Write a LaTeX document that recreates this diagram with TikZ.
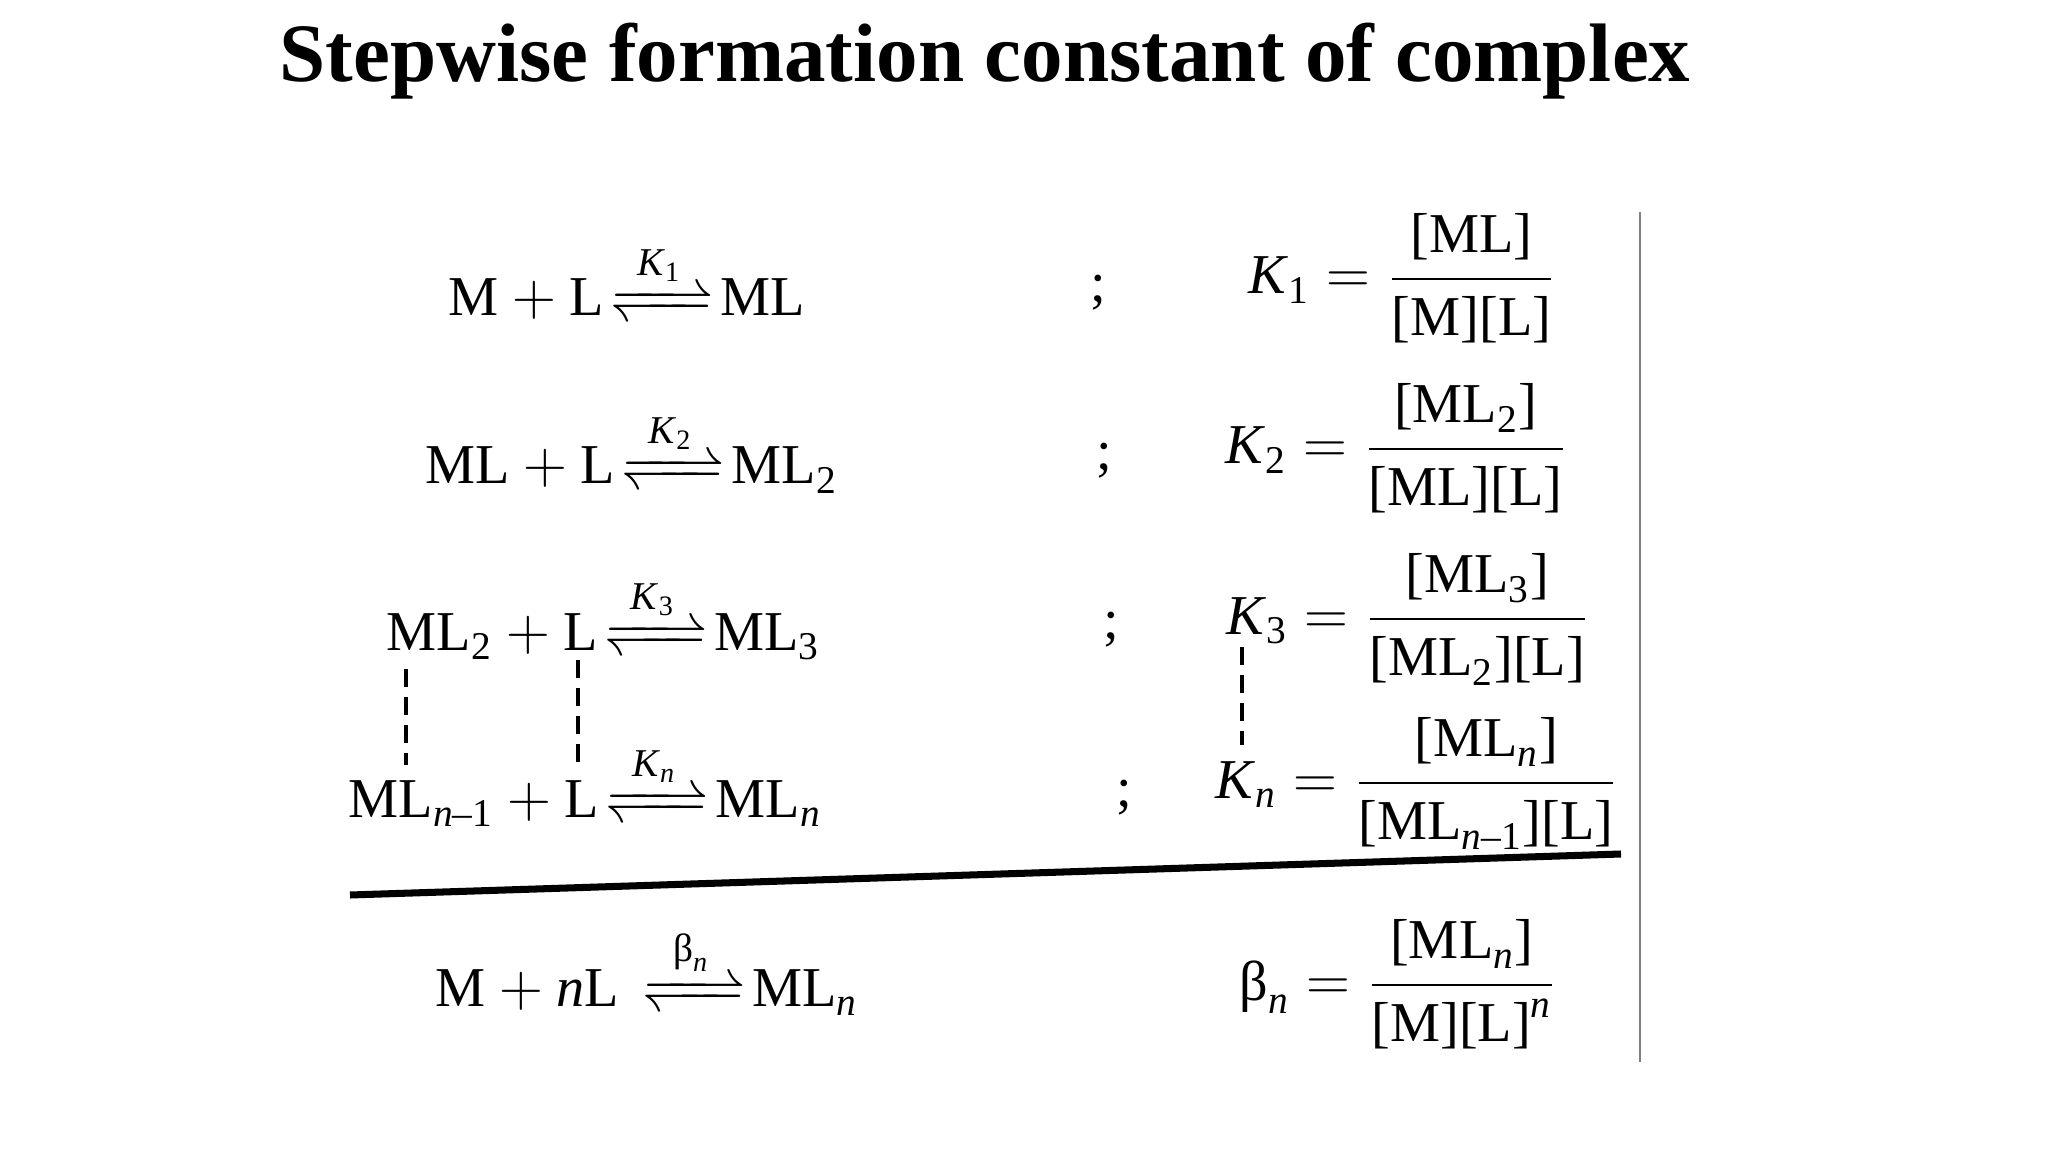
\documentclass[tikz,border=0pt]{standalone}
\usepackage{mathtools}
\usepackage[no-math]{fontspec}
\setmainfont{Liberation Serif}
\begin{document}
\begin{tikzpicture}[x=0.01cm,y=-0.01cm,
  eq/.style={anchor=base west,inner sep=0pt,font=\fontsize{16}{19}\selectfont},
  semi/.style={anchor=base,inner sep=0pt,font=\fontsize{16}{19}\selectfont},
  dline/.style={dashed,line width=1.2pt,dash pattern=on 5pt off 3pt}]
\useasboundingbox (0,0) rectangle (2048,1152);
\node[anchor=base,inner sep=0pt,font=\fontsize{23.6}{27}\selectfont\bfseries] (title) at (985,82) {Stepwise formation constant of complex};
\newcommand{\tK}[1]{\text{\textit{K}}_{\text{#1}}}
\newcommand{\tx}[1]{\text{#1}}
\newcommand{\eqa}[1]{\!\xrightleftharpoons[\hspace{1.3em}]{#1}\!}
% left
\node[eq] (l1) at (448,316) {$\tx{M}+\tx{L}\eqa{\tK{1}}\tx{ML}$};
\node[eq] (l2) at (425,484) {$\tx{ML}+\tx{L}\eqa{\tK{2}}\tx{ML}_{\tx{2}}$};
\node[eq] (l3) at (386,650) {$\tx{ML}_{\tx{2}}+\tx{L}\eqa{\tK{3}}\tx{ML}_{\tx{3}}$};
\node[eq] (l4) at (348,817) {$\tx{ML}_{\textit{n}\tx{--1}}+\tx{L}\eqa{\text{\textit{K}}_{\textit{n}}}\tx{ML}_{\textit{n}}$};
\node[eq] (l5) at (435,1006) {$\tx{M}+\textit{n}\tx{L}\;\eqa{\tx{β}_{\textit{n}}}\tx{ML}_{\textit{n}}$};
% semicolons
\node[semi] (s1) at (1098,302) {;};
\node[semi] (s2) at (1104,470) {;};
\node[semi] (s3) at (1111,638) {;};
\node[semi] (s4) at (1124,806) {;};
% right
\node[eq] (r1) at (1248,294) {$\tK{1}=\dfrac{\tx{[ML]}}{\tx{[M][L]}}$};
\node[eq] (r2) at (1225,464) {$\tK{2}=\dfrac{\tx{[ML}_{\tx{2}}\tx{]}}{\tx{[ML][L]}}$};
\node[eq] (r3) at (1226,634) {$\tK{3}=\dfrac{\tx{[ML}_{\tx{3}}\tx{]}}{\tx{[ML}_{\tx{2}}\tx{][L]}}$};
\node[eq] (r4) at (1215,798) {$\text{\textit{K}}_{\textit{n}}=\dfrac{\tx{[ML}_{\textit{n}}\tx{]}}{\tx{[ML}_{\textit{n}\tx{--1}}\tx{][L]}}$};
\node[eq] (r5) at (1239,1000) {$\tx{β}_{\textit{n}}=\dfrac{\tx{[ML}_{\textit{n}}\tx{]}}{\tx{[M][L]}^{\textit{n}}}$};
% lines
\coordinate (v1) at (1640,212); \coordinate (v2) at (1640,1062);
\draw[line width=0.8pt,gray] (v1) -- (v2);
\coordinate (h1) at (350,895); \coordinate (h2) at (1621,854);
\draw[line width=2pt] (h1) -- (h2);
\coordinate (a1) at (406,669); \coordinate (a2) at (406,765);
\coordinate (b1) at (578,660); \coordinate (b2) at (578,765);
\coordinate (c1) at (1242,647); \coordinate (c2) at (1242,745);
\draw[dline] (a1) -- (a2);
\draw[dline] (b1) -- (b2);
\draw[dline] (c1) -- (c2);
\end{tikzpicture}
\end{document}
